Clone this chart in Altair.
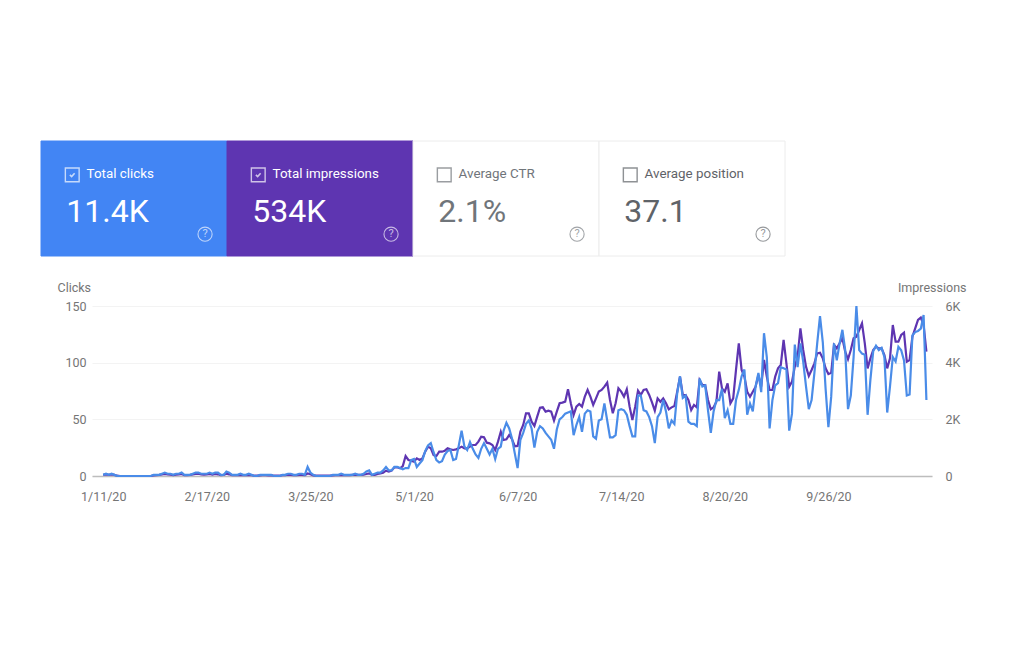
import datetime as dt
import altair as alt
import pandas as pd

clicks = [
    1,2,1,2,1,0,0,0,0,0, 0,0,0,0,0,0,0,0,1,1, 1,2,3,2,2,1,2,2,3,1,
    1,1,2,3,3,2,2,2,3,2, 3,3,1,1,4,3,1,1,1,2, 1,1,2,1,0,0,1,1,1,1,
    1,0,0,0,1,1,2,2,1,1, 2,2,1,8,3,1,0,0,0,0, 0,0,1,1,1,2,1,1,1,1,
    2,1,1,2,4, 5,1,2,3,3,
    5,8,5,5,8,8,7,6,7,7,
    14,15,8,11,14,22,27,29,21,14,
    12,13,19,22,23,14,15,27,40,26,
    23,30,24,19,16,24,29,24,19,24,
    15,24,26,40,47,42,33,20,7,32,
    38,46,49,42,25,39,44,42,38,35,
    32,24,41,50,52,55,56,57,36,45,
    52,39,55,58,57,35,33,49,50,64,
    49,34,34,36,58,59,58,54,44,35,
    35,71,71,58,57,52,44,29,52,56,
    67,57,42,49,46,73,88,69,71,48,
    46,46,44,86,79,80,58,38,57,67,
    67,77,51,58,46,46,67,76,88,94,
    54,64,57,79,91,74,126,105,42,67,
    80,82,96,95,94,40,55,116,96,117,
    101,79,59,67,91,117,141,118,77,43,
    70,117,102,117,129,111,59,71,105,150,
    111,108,107,54,85,110,115,111,113,105,
    56,79,105,101,114,111,102,71,72,124,
    127,128,130,142,67,
]
impressions = [
    40,60,40,60,40,10,0,0,0,0, 0,0,0,0,0,0,0,0,20,30, 40,60,70,60,50,30,50,60,70,30,
    30,40,60,70,80,60,50,60,70,50, 70,60,30,40,80,60,30,30,30,40, 30,30,40,30,10,10,20,30,30,20,
    30,10,10,10,30,30,50,40,30,30, 40,40,30,90,60,20,10,10,10,10, 10,10,20,30,30,40,30,30,30,40,
    50,40,40,50,70, 94,35,35,70,94,
    118,188,153,188,306,306,271,353,706,565,
    541,506,624,565,624,859,1035,977,741,706,
    859,859,894,977,941,918,941,977,1035,977,
    977,1035,1094,1094,1212,1388,1365,1176,1153,1094,
    918,1212,1565,1271,1294,1447,1300,1050,1060,1566,
    1801,2213,2213,1918,1766,2095,2413,2425,2272,2307,
    2272,1954,2272,2566,2590,2625,3060,2566,2154,2448,
    2542,2448,2801,3037,2801,2507,2742,2978,3037,3154,
    3296,2684,2213,2566,3096,2978,2801,3060,2448,1977,
    2448,3013,2860,3037,3060,2860,2600,2306,2741,2623,
    2741,2565,2353,2423,2470,2976,3506,2859,2859,2682,
    2329,2506,2423,3388,3212,3212,2682,2353,2423,2623,
    3683,3094,2976,3271,2565,2741,3742,4683,3742,3506,
    2976,2800,2976,3153,3565,3153,4095,3506,3035,3035,
    3506,3800,3918,4801,3977,3153,3330,3859,4212,5213,
    4448,3859,3530,3741,3977,4330,4353,4153,3800,3600,
    3647,4624,4506,4683,4860,4389,4118,4448,4860,4918,
    5154,5389,4683,3800,4153,4448,4565,4506,4506,4271,
    3800,4153,5330,4742,4742,4977,5060,4036,4094,4918,
    5213,5507,5589,5330,4389,
]
tick_dates = ["2020-01-11", "2020-02-17", "2020-03-25", "2020-05-01",
              "2020-06-07", "2020-07-14", "2020-08-20", "2020-09-26"]
click_ticks = [0, 50, 100, 150]
impression_ticks = [0, 2000, 4000, 6000]

tile_labels = ["Total clicks", "Total impressions", "Average CTR", "Average position"]
tile_values = ["11.4K", "534K", "2.1%", "37.1"]
tile_fills = ["#4285f4", "#5e35b1", "#ffffff", "#ffffff"]
tile_edges = ["#4285f4", "#5e35b1", "#ececec", "#ececec"]
tile_inks = ["#ffffff", "#ffffff", "#70757a", "#5f6368"]
tile_checked = [True, True, False, False]

BLUE = "#4a8ce8"
PURPLE = "#5e35b1"
GREY = "#757575"
FONT = "Roboto"


def ms(s):
    d = dt.datetime.fromisoformat(s).replace(tzinfo=dt.timezone.utc)
    return int(d.timestamp() * 1000)


start = dt.datetime(2020, 1, 11)
n = min(len(clicks), len(impressions))
series = pd.DataFrame({
    "t": [ms((start + dt.timedelta(days=i)).strftime("%Y-%m-%d")) for i in range(n)],
    "clicks": clicks[:n],
    "impressions": impressions[:n],
})
x_scale = alt.Scale(type="utc", domain=[ms("2020-01-07"), ms("2020-11-02")], range=[0, 840], nice=False)

tiles = pd.DataFrame({
    "i": range(4), "i2": [v + 1 for v in range(4)],
    "label": tile_labels, "value": tile_values,
    "fill": tile_fills, "edge": tile_edges, "ink": tile_inks, "checked": tile_checked,
})
tiles["top"] = 0.0
tiles["bottom"] = 1.0
tiles["box_x"] = tiles["i"] + 0.168
tiles["label_x"] = tiles["i"] + 0.245
tiles["value_x"] = tiles["i"] + 0.136
tiles["help_x"] = tiles["i"] + 0.882
tiles["box_y"] = 0.295
tiles["label_y"] = 0.29
tiles["value_y"] = 0.617
tiles["help_y"] = 0.81

tx = alt.Scale(domain=[0, 4], range=[-51, 693], nice=False, zero=False)
ty = alt.Scale(domain=[0, 1], range=[-165, -50], nice=False, zero=False)


def X(f):
    return alt.X(f"{f}:Q", scale=tx, axis=None)


def Y(f):
    return alt.Y(f"{f}:Q", scale=ty, axis=None)


ink = alt.Color("ink:N", scale=None, legend=None)
base = alt.Chart(tiles)

tile_rects = base.mark_rect(strokeWidth=1).encode(
    x=X("i"), x2="i2:Q", y=Y("top"), y2="bottom:Q",
    fill=alt.Fill("fill:N", scale=None, legend=None),
    stroke=alt.Stroke("edge:N", scale=None, legend=None),
)
boxes = base.mark_point(shape="square", size=190, filled=False, strokeWidth=1.4).encode(
    x=X("box_x"), y=Y("box_y"), stroke=alt.Stroke("ink:N", scale=None, legend=None),
)
checks = alt.Chart(tiles[tiles["checked"]]).mark_point(
    shape="M-0.5,0 L-0.13,0.36 L0.5,-0.36", size=90, filled=False, strokeWidth=1.6
).encode(
    x=X("box_x"), y=Y("box_y"), stroke=alt.Stroke("ink:N", scale=None, legend=None),
)
labels = base.mark_text(align="left", baseline="middle", font=FONT, fontSize=13.4).encode(
    x=X("label_x"), y=Y("label_y"), text="label:N", color=ink,
)
values = base.mark_text(align="left", baseline="middle", font=FONT, fontSize=32).encode(
    x=X("value_x"), y=Y("value_y"), text="value:N", color=ink,
)
helps = base.mark_point(shape="circle", size=200, filled=False, strokeWidth=1.1, opacity=0.65).encode(
    x=X("help_x"), y=Y("help_y"), stroke=alt.Stroke("ink:N", scale=None, legend=None),
)
help_marks = base.transform_calculate(q="'?'").mark_text(
    align="center", baseline="middle", font=FONT, fontSize=11, opacity=0.65
).encode(
    x=X("help_x"), y=Y("help_y"), text="q:N", color=ink,
)

impr_line = alt.Chart(series).mark_line(color=PURPLE, strokeWidth=2.2, interpolate="linear").encode(
    x=alt.X("t:T", scale=x_scale, axis=None),
    y=alt.Y("impressions:Q",
            scale=alt.Scale(domain=[0, 6000], nice=False),
            axis=alt.Axis(
                orient="right", values=impression_ticks, grid=False, domain=False, ticks=False,
                tickSize=0, labelPadding=13, labelColor=GREY, labelFont=FONT, labelFontSize=12.5,
                labelFlush=False, labelExpr="datum.value == 0 ? '0' : (datum.value / 1000) + 'K'",
                title="Impressions", titleFont=FONT, titleFontSize=12.5, titleFontWeight="normal",
                titleColor=GREY, titleAngle=0, titleAlign="right", titleBaseline="middle",
                titleX=34, titleY=-19,
            )),
)
click_line = alt.Chart(series).mark_line(color=BLUE, strokeWidth=2.2, interpolate="linear").encode(
    x=alt.X("t:T", scale=x_scale,
            axis=alt.Axis(
                values=[ms(s) for s in tick_dates], format="%-m/%-d/%y", title=None, grid=False,
                ticks=False, tickSize=0, labelPadding=14, labelAngle=0, labelColor=GREY, labelFont=FONT,
                labelFontSize=12.5, labelOverlap=False, labelFlush=False,
                domainColor="#bdbdbd", domainWidth=1.5,
            )),
    y=alt.Y("clicks:Q",
            scale=alt.Scale(domain=[0, 150], nice=False),
            axis=alt.Axis(
                orient="left", values=click_ticks, grid=True, gridColor="#f3f3f3", gridWidth=1,
                domain=False, ticks=False, tickSize=0, labelPadding=6, labelColor=GREY, labelFont=FONT,
                labelFontSize=12.5, labelFlush=False,
                title="Clicks", titleFont=FONT, titleFontSize=12.5, titleFontWeight="normal",
                titleColor=GREY, titleAngle=0, titleAlign="left", titleBaseline="middle",
                titleX=-35, titleY=-19,
            )),
)

chart = alt.layer(
    tile_rects, boxes, checks, labels, values, helps, help_marks, impr_line, click_line
).resolve_scale(
    x="independent", y="independent"
).properties(
    width=840, height=170,
    background="#ffffff",
    padding={"left": 84, "top": 298, "right": 76, "bottom": 170},
    autosize=alt.AutoSizeParams(type="none"),
).configure_view(stroke=None)

chart.save("out.html", embed_options={"renderer": "svg", "actions": False})
